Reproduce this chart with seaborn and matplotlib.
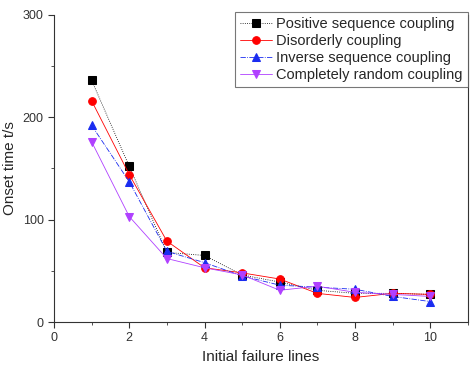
import numpy as np
import pandas as pd
import matplotlib
matplotlib.use("Agg")
import matplotlib.pyplot as plt
import seaborn as sns

# Data
lines = [1, 2, 3, 4, 5, 6, 7, 8, 9, 10]
positive = [236, 152, 68, 65, 46, 39, 31, 28, 28, 27]
disorderly = [216, 144, 79, 53, 48, 42, 28, 24, 28, 27]
inverse = [192, 137, 69, 58, 45, 36, 34, 32, 25, 20]
random_cp = [176, 103, 62, 53, 46, 31, 35, 29, 27, 25]

labels = ["Positive sequence coupling", "Disorderly coupling",
          "Inverse sequence coupling", "Completely random coupling"]

sns.set_style("ticks")
plt.rcParams["font.family"] = ["Liberation Sans", "DejaVu Sans"]

fig = plt.figure(figsize=(4.74, 3.71), dpi=100)
ax = fig.add_axes([0.114, 0.132, 0.873, 0.828])

styles = [
    (positive, "black", "s", ":"),
    (disorderly, "#ff0000", "o", "-"),
    (inverse, "#1a2cf0", "^", "-."),
    (random_cp, "#b040ff", "v", "-"),
]
for (vals, color, marker, ls), lab in zip(styles, labels):
    sns.lineplot(x=lines, y=vals, ax=ax, color=color, marker=marker,
                 linestyle=ls, linewidth=0.6, markersize=5.5,
                 markeredgecolor=color, label=lab)

ax.set_xlim(0, 11)
ax.set_ylim(0, 300)
ax.set_xticks([0, 2, 4, 6, 8, 10])
ax.set_xticks([1, 3, 5, 7, 9, 11], minor=True)
ax.set_yticks([0, 100, 200, 300])
ax.set_yticks([50, 150, 250], minor=True)
ax.tick_params(axis="both", which="major", labelsize=9, length=4,
               color="#333333", labelcolor="#333333")
ax.tick_params(axis="both", which="minor", length=2, color="#333333")
ax.set_xlabel("Initial failure lines", fontsize=11)
ax.set_ylabel("Onset time t/s", fontsize=11)
ax.spines["top"].set_visible(False)
for s in ["left", "bottom", "right"]:
    ax.spines[s].set_linewidth(0.8)
    ax.spines[s].set_color("#333333")

leg = ax.legend(loc="upper right", bbox_to_anchor=(1.0, 1.008), fontsize=10.5,
                frameon=True, fancybox=False, edgecolor="#555555",
                borderaxespad=0, handlelength=2.2, labelspacing=0.2,
                handletextpad=0.3, borderpad=0.35)
leg.get_frame().set_linewidth(0.8)

fig.savefig("out.png", dpi=100)
